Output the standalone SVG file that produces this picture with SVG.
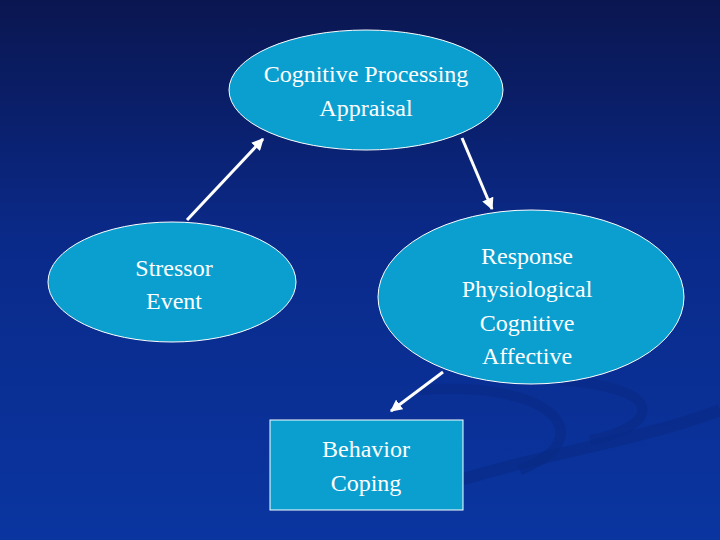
<svg xmlns="http://www.w3.org/2000/svg" width="720" height="540" viewBox="0 0 720 540">
<defs>
<linearGradient id="bg" x1="0" y1="0" x2="0" y2="1">
<stop offset="0" stop-color="#0a1650"/>
<stop offset="0.45" stop-color="#0a2a8a"/>
<stop offset="1" stop-color="#0a35a0"/>
</linearGradient>
<marker id="ah" viewBox="0 0 10 10" refX="9" refY="5" markerWidth="4" markerHeight="4" orient="auto">
<path d="M0,0 L10,5 L0,10 z" fill="#fff"/>
</marker>
<style>
.n{fill:#0a9fcf;stroke:#fff;stroke-width:1}
.t{font-family:"Liberation Serif",serif;font-size:24px;fill:#fff;text-anchor:middle}
.c{stroke:#fff;stroke-width:3;fill:none;marker-end:url(#ah)}
</style>
</defs>
<rect width="720" height="540" fill="url(#bg)"/>
<path d="M420,390 C560,380 600,440 520,470" stroke="#082a85" stroke-width="10" fill="none" opacity="0.6"/>
<path d="M560,380 C680,390 650,430 590,440" stroke="#082a85" stroke-width="10" fill="none" opacity="0.6"/>
<path d="M460,480 C560,450 640,440 720,410" stroke="#082a85" stroke-width="12" fill="none" opacity="0.6"/>
<g id="connectors">
<line class="c" x1="187" y1="220" x2="263" y2="139"/>
<line class="c" x1="462" y1="138" x2="492" y2="209"/>
<line class="c" x1="443" y1="372" x2="391" y2="411"/>
</g>
<g id="cognitive">
<ellipse class="n" cx="366" cy="90" rx="137" ry="60"/>
<text class="t" x="366" y="82">Cognitive Processing</text>
<text class="t" x="366" y="116">Appraisal</text>
</g>
<g id="stressor">
<ellipse class="n" cx="172" cy="282" rx="124" ry="60"/>
<text class="t" x="174" y="276">Stressor</text>
<text class="t" x="174" y="309">Event</text>
</g>
<g id="response">
<ellipse class="n" cx="531" cy="297" rx="153" ry="87"/>
<text class="t" x="527" y="264">Response</text>
<text class="t" x="527" y="297">Physiological</text>
<text class="t" x="527" y="331">Cognitive</text>
<text class="t" x="527" y="364">Affective</text>
</g>
<g id="behavior">
<rect class="n" x="270" y="420" width="193" height="90"/>
<text class="t" x="366" y="457">Behavior</text>
<text class="t" x="366" y="491">Coping</text>
</g>
</svg>
